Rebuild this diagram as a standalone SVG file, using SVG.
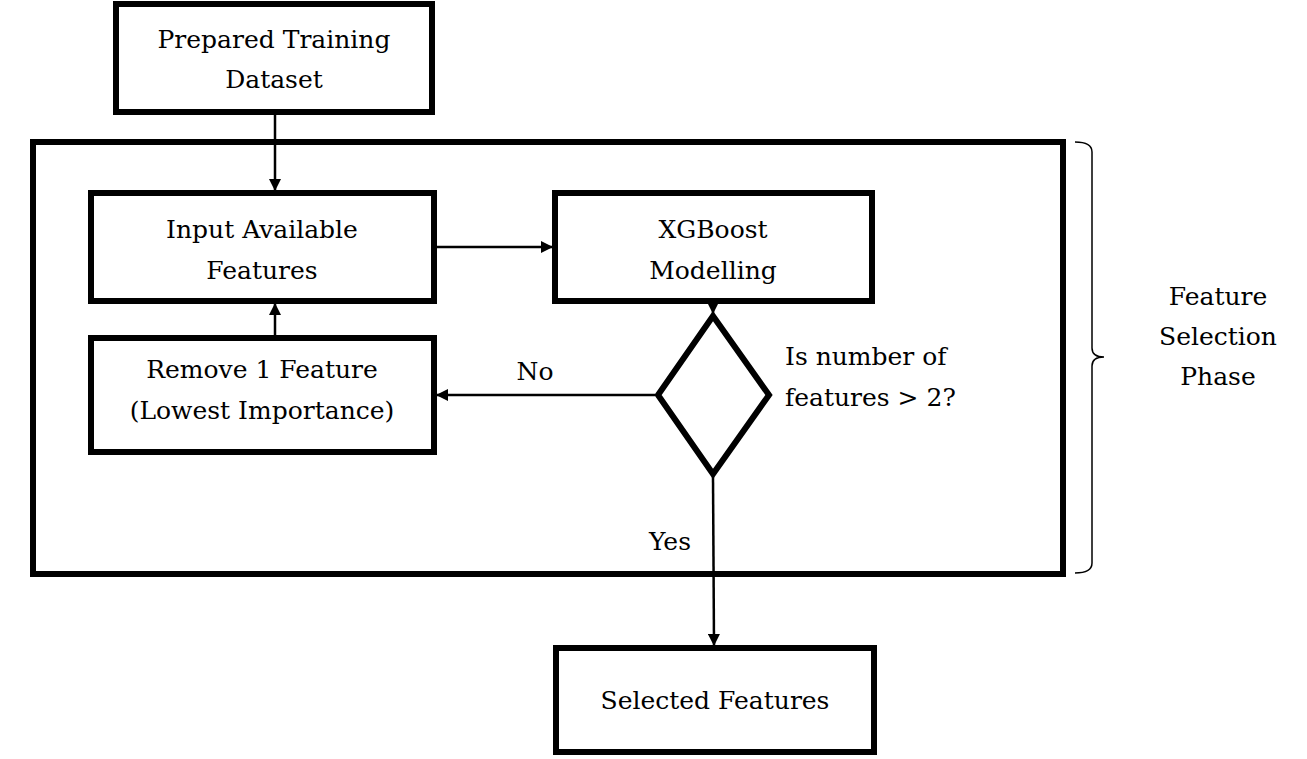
<svg xmlns="http://www.w3.org/2000/svg" width="1307" height="759" viewBox="0 0 1307 759">
<defs>
<marker id="ah" markerWidth="12" markerHeight="12" refX="11" refY="6" orient="auto" markerUnits="userSpaceOnUse"><path d="M0,0 L12,6 L0,12 z" fill="#000"/></marker>
<style>
.b{fill:#fff;stroke:#000;stroke-width:6}
.t{font-family:'DejaVu Serif','Liberation Serif',serif;font-size:25px;fill:#000;text-anchor:middle}
.c{stroke:#000;stroke-width:2.5;fill:none}
</style>
</defs>
<rect width="1307" height="759" fill="#fff"/>
<g id="phase"><rect x="33" y="142" width="1030" height="432" fill="none" stroke="#000" stroke-width="6"/></g>
<g id="prepared"><rect class="b" x="116" y="4" width="316" height="108"/><text class="t" x="274" y="48">Prepared Training</text><text class="t" x="274" y="88">Dataset</text></g>
<g id="input"><rect class="b" x="91" y="193" width="343" height="108"/><text class="t" x="262" y="238">Input Available</text><text class="t" x="262" y="279">Features</text></g>
<g id="xgb"><rect class="b" x="555" y="193" width="317" height="108"/><text class="t" x="713" y="238">XGBoost</text><text class="t" x="713" y="279">Modelling</text></g>
<g id="remove"><rect class="b" x="91" y="338" width="343" height="114"/><text class="t" x="262" y="378">Remove 1 Feature</text><text class="t" x="262" y="419">(Lowest Importance)</text></g>
<g id="decision"><path class="b" d="M713,316 L769,395 L713,474 L658,395 Z"/><text class="t" x="785" y="365" style="text-anchor:start">Is number of</text><text class="t" x="785" y="406" style="text-anchor:start">features &gt; 2?</text></g>
<g id="selected"><rect class="b" x="556" y="648" width="318" height="104"/><text class="t" x="715" y="709">Selected Features</text></g>
<g id="connectors">
<line class="c" x1="275" y1="115" x2="275" y2="190" marker-end="url(#ah)"/>
<line class="c" x1="437" y1="247" x2="552" y2="247" marker-end="url(#ah)"/>
<line class="c" x1="713" y1="304" x2="713" y2="313" marker-end="url(#ah)"/>
<line class="c" x1="655" y1="395" x2="437" y2="395" marker-end="url(#ah)"/>
<line class="c" x1="275" y1="335" x2="275" y2="304" marker-end="url(#ah)"/>
<line class="c" x1="713" y1="477" x2="714" y2="645" marker-end="url(#ah)"/>
<text class="t" x="535" y="380">No</text>
<text class="t" x="670" y="550">Yes</text>
</g>
<g id="bracket"><path d="M1075,142 Q1092,142 1092,152 L1092,348 Q1092,357 1104,357 Q1092,357 1092,366 L1092,563 Q1092,573 1075,573" fill="none" stroke="#000" stroke-width="1.5"/>
<text class="t" x="1218" y="305">Feature</text><text class="t" x="1218" y="345">Selection</text><text class="t" x="1218" y="385">Phase</text></g>
</svg>
